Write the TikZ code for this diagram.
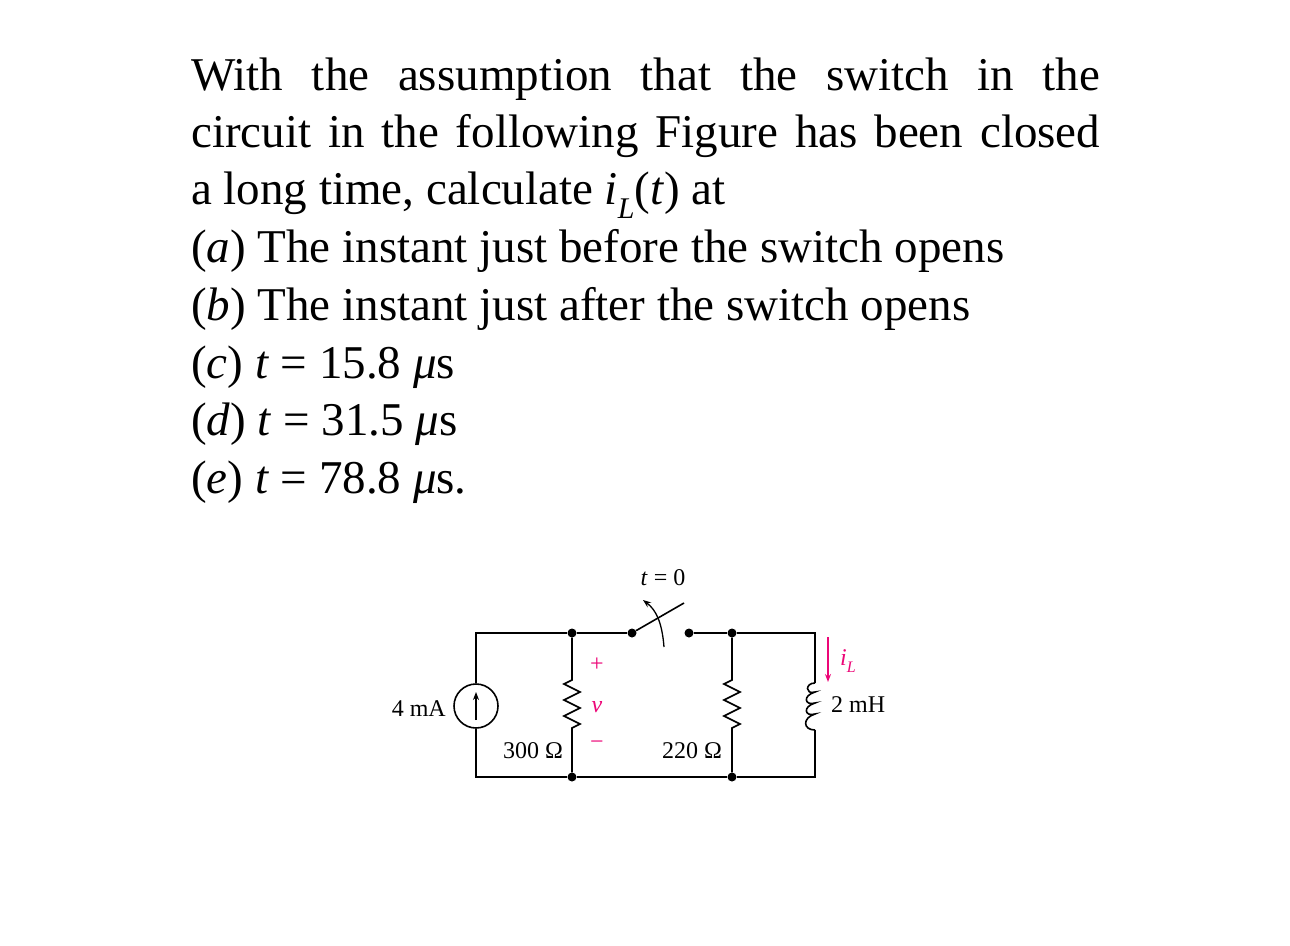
\documentclass[tikz,border=0pt]{standalone}
\usepackage{fontspec}
\setmainfont{Liberation Serif}
\usetikzlibrary{arrows.meta}
\begin{document}
\begin{tikzpicture}[x=1pt,y=-1pt,
  wire/.style={line width=1.6pt},
  dot/.style={circle,fill,inner sep=0pt,minimum size=9pt},
  lbl/.style={font=\fontsize{24}{28}\selectfont,inner sep=0pt},
  pink/.style={color=magenta!80!red}]
\useasboundingbox (0,0) rectangle (1290,945);
\tikzset{ln/.style={anchor=base west,inner sep=0pt,font=\fontsize{47}{52}\selectfont}}
\node[ln] (l1) at (191,90) {\hbox to 909pt{With\hfill the\hfill assumption\hfill that\hfill the\hfill switch\hfill in\hfill the}};
\node[ln] (l2) at (191,147) {\hbox to 909pt{circuit\hfill in\hfill the\hfill following\hfill Figure\hfill has\hfill been\hfill closed}};
\node[ln] (l3) at (191,204) {a long time, calculate \textit{i}\raisebox{-0.3em}{\fontsize{30}{30}\selectfont\textit{L}}(\textit{t}) at};
\node[ln] (l4) at (191,262) {(\textit{a}) The instant just before the switch opens};
\node[ln] (l5) at (191,320) {(\textit{b}) The instant just after the switch opens};
\node[ln] (l6) at (191,378) {(\textit{c}) \textit{t} = 15.8 \textit{μ}s};
\node[ln] (l7) at (191,435) {(\textit{d}) \textit{t} = 31.5 \textit{μ}s};
\node[ln] (l8) at (191,493) {(\textit{e}) \textit{t} = 78.8 \textit{μ}s.};
% circuit
\coordinate (tl) at (476,633); \coordinate (bl) at (476,777);
\node[dot] (n1) at (572,633) {}; \node[dot] (n1b) at (572,777) {};
\node[dot] (s1) at (632,633) {}; \node[dot] (s2) at (689,633) {};
\node[dot] (n2) at (732,633) {}; \node[dot] (n2b) at (732,777) {};
\coordinate (tr) at (815,633); \coordinate (br) at (815,777);
\node[circle,draw,line width=1.6pt,minimum size=44pt,inner sep=0pt] (src) at (476,706) {};
\draw[wire] (src.north) -- (tl) -- (n1) -- (s1);
\draw[wire] (s2) -- (n2) -- (tr) -- (815,683);
\draw[wire] (815,730) -- (br) -- (n2b) -- (n1b) -- (bl) -- (src.south);
\draw[line width=1.6pt,-{Stealth[length=8pt]}] (476,720) -- (476,692);
% resistors
\draw[wire] (n1) -- (572,680) -- (564,684) -- (580,692) -- (564,700) -- (580,708) -- (564,716) -- (580,724) -- (572,728) -- (n1b);
\draw[wire] (n2) -- (732,680) -- (724,684) -- (740,692) -- (724,700) -- (740,708) -- (724,716) -- (740,724) -- (732,728) -- (n2b);
% inductor
\draw[wire] (815,683) .. controls (805,683) and (805,695) .. (815,692) .. controls (802,696) and (805,706) .. (815,703) .. controls (802,707) and (805,717) .. (815,714) .. controls (802,718) and (803,730) .. (815,730);
% switch
\draw[wire] (s1) -- (684,603);
\draw[line width=1.3pt,-{Stealth[length=8pt]}] (664,647) .. controls (662,622) and (656,610) .. (643,600);
% labels
\node[lbl] (t0) at (663,578) {\textit{t} = 0};
\node[lbl,anchor=east] (a4) at (446,709) {4 mA};
\node[lbl] (r1) at (533,751) {300 Ω};
\node[lbl] (r2) at (692,751) {220 Ω};
\node[lbl,anchor=west] (ind) at (831,705) {2 mH};
\node[lbl,pink] (pl) at (597,665) {+};
\node[lbl,pink] (vv) at (597,707) {\textit{v}};
\node[lbl,pink] (mi) at (597,745) {−};
\draw[pink,line width=1.6pt,-{Stealth[length=8pt]}] (828,637) -- (828,682);
\node[lbl,pink] (il) at (848,661) {\textit{i}\raisebox{-0.3em}{\fontsize{16}{16}\selectfont\textit{L}}};
\end{tikzpicture}
\end{document}
